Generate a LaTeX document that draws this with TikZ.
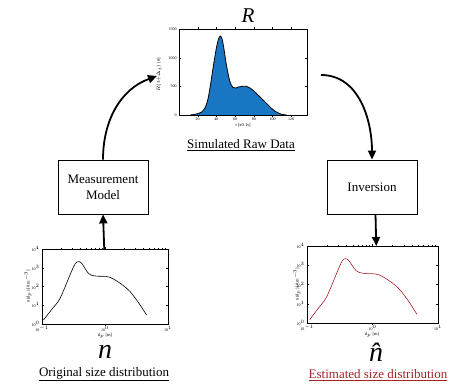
\documentclass[tikz,border=0pt]{standalone}
\usepackage{fontspec}
\setmainfont{Liberation Serif}
\usetikzlibrary{arrows.meta}
\definecolor{histblue}{RGB}{25,118,195}
\definecolor{estred}{RGB}{165,35,40}
\begin{document}
\begin{tikzpicture}[x=1pt,y=-1pt,
 flow/.style={line width=1.8pt, -{Triangle[length=9pt,width=8pt]}},
 procbox/.style={draw, line width=0.8pt, minimum width=90pt, minimum height=54pt, align=center, inner sep=0pt, font=\fontsize{13}{16}\selectfont},
 caption/.style={font=\fontsize{13}{15}\selectfont, inner sep=1pt},
 ticklab/.style={font=\fontsize{4}{4}\selectfont, inner sep=0.3pt},
 axlab/.style={font=\fontsize{4.5}{5}\selectfont, inner sep=0.3pt},
 plotframe/.style={draw, line width=0.5pt, inner sep=0pt, anchor=north west},
 bigsym/.style={font=\fontsize{28}{28}\selectfont\itshape, inner sep=0pt},
]
\useasboundingbox (0,0) rectangle (474,390);

% ---------- top: simulated raw data ----------
\node[font=\fontsize{21}{21}\selectfont\itshape, inner sep=0pt] (Rsym) at (248,16) {R};
\node[plotframe, minimum width=128pt, minimum height=86pt] (rawplot) at (179,29) {};
\begin{scope}[shift={(179,115)}, x=0.935pt, y=5.73pt]
  \fill[histblue] (12,0) -- plot[smooth, tension=0.5] coordinates {(12,0) (18,0.15) (24,0.5) (28,1.3) (31,2.8) (34,5.6) (37,8.8) (40,11.7) (42,13.1) (44,13.8) (46,13.3) (48,11.6) (50,9.4) (52,7.6) (54,6.1) (56,5.2) (58,4.8) (61,4.7) (64,4.9) (68,5.0) (72,5.0) (76,4.7) (80,4.2) (85,3.4) (90,2.6) (95,1.8) (100,1.0) (105,0.45) (110,0.12) (115,0)} -- cycle;
  \draw[line width=0.8pt] plot[smooth, tension=0.5] coordinates {(12,0) (18,0.15) (24,0.5) (28,1.3) (31,2.8) (34,5.6) (37,8.8) (40,11.7) (42,13.1) (44,13.8) (46,13.3) (48,11.6) (50,9.4) (52,7.6) (54,6.1) (56,5.2) (58,4.8) (61,4.7) (64,4.9) (68,5.0) (72,5.0) (76,4.7) (80,4.2) (85,3.4) (90,2.6) (95,1.8) (100,1.0) (105,0.45) (110,0.12) (115,0)};
  \foreach \t in {20,40,...,120} {
    \draw[line width=0.3pt] (\t,0) -- ++(0,-2pt);
    \draw[line width=0.3pt] (\t,15) -- ++(0,2pt);
  }
  \foreach \v in {5,10} {
    \draw[line width=0.3pt] (0,\v) -- ++(2pt,0);
    \draw[line width=0.3pt] (137,\v) -- ++(-2pt,0);
  }
\end{scope}
\foreach \t/\px in {20/197.7,40/216.4,60/235.1,80/253.8,100/272.5,120/291.2}
  \node[ticklab] at (\px,119) {\t};
\foreach \v/\py in {1500/29,1000/58,500/86.5,0/115}
  \node[ticklab, anchor=east] at (177,\py) {\v};
\node[axlab, rotate=90] at (159,75) {$R(t{+}\Delta_t)$ [\#]};
\node[axlab] at (243,125.5) {t [x0.1s]};
\node[caption] (rawcap) at (241,145) {\underline{Simulated Raw Data}};

% ---------- process boxes ----------
\node[procbox] (mm) at (103,187) {Measurement\\Model};
\node[procbox] (inv) at (372,187) {Inversion};

% ---------- bottom left: original size distribution ----------
\node[plotframe, minimum width=126pt, minimum height=75pt] (origplot) at (42,249) {};
\begin{scope}[shift={(42,249)}, x=126pt, y=-75pt]
  \draw[line width=0.6pt] plot[smooth, tension=0.55] coordinates {(0.011,0.947) (0.08,0.80) (0.143,0.658) (0.222,0.347) (0.262,0.20) (0.288,0.169) (0.315,0.19) (0.368,0.324) (0.421,0.36) (0.54,0.378) (0.672,0.524) (0.751,0.68) (0.83,0.88)};
  \foreach \w in {0.25,0.5,0.75} {
    \draw[line width=0.3pt] (0,\w) -- ++(2pt,0);
    \draw[line width=0.3pt] (1,\w) -- ++(-2pt,0);
  }
  \foreach \d in {0,0.5} \foreach \k in {2,...,9} {
    \draw[line width=0.3pt] ({\d+0.5*log10(\k)},1) -- ++(0,-1.2pt);
    \draw[line width=0.3pt] ({\d+0.5*log10(\k)},0) -- ++(0,1.2pt);
  }
  \draw[line width=0.3pt] (0.5,1) -- ++(0,-2.2pt) (0.5,0) -- ++(0,2.2pt);
\end{scope}
\foreach \e/\py in {4/249,3/267.75,2/286.5,1/305.25,0/324}
  \node[ticklab, anchor=east] at (40,\py) {10$^{\e}$};
\foreach \e/\px in {-1/42,0/105,1/168}
  \node[ticklab, anchor=north] at (\px,325.5) {10$^{\e}$};
\node[axlab, rotate=90] at (28,286) {n(d$_p$) [\#.m$^{-3}$]};
\node[axlab, anchor=north] at (105,332.5) {d$_p$ [m]};
\node[bigsym] (nsym) at (105,352) {n};
\node[caption] (origcap) at (104,374) {\underline{Original size distribution}};

% ---------- bottom right: estimated size distribution ----------
\node[plotframe, minimum width=131pt, minimum height=77pt] (estplot) at (307,246) {};
\begin{scope}[shift={(307,246)}, x=131pt, y=-77pt]
  \draw[estred, line width=0.6pt] plot[smooth, tension=0.55] coordinates {(0.02,0.96) (0.09,0.80) (0.15,0.66) (0.23,0.34) (0.27,0.19) (0.295,0.165) (0.32,0.19) (0.375,0.32) (0.43,0.355) (0.55,0.375) (0.68,0.52) (0.76,0.68) (0.84,0.89)};
  \foreach \w in {0.25,0.5,0.75} {
    \draw[line width=0.3pt] (0,\w) -- ++(2pt,0);
    \draw[line width=0.3pt] (1,\w) -- ++(-2pt,0);
  }
  \foreach \d in {0,0.5} \foreach \k in {2,...,9} {
    \draw[line width=0.3pt] ({\d+0.5*log10(\k)},1) -- ++(0,-1.2pt);
    \draw[line width=0.3pt] ({\d+0.5*log10(\k)},0) -- ++(0,1.2pt);
  }
  \draw[line width=0.3pt] (0.5,1) -- ++(0,-2.2pt) (0.5,0) -- ++(0,2.2pt);
\end{scope}
\foreach \e/\py in {4/246,3/265.25,2/284.5,1/303.75,0/323}
  \node[ticklab, anchor=east] at (305,\py) {10$^{\e}$};
\foreach \e/\px in {-1/307,0/372.5,1/438}
  \node[ticklab, anchor=north] at (\px,324.5) {10$^{\e}$};
\node[axlab, rotate=90] at (297,284) {n(d$_p$) [\#.m$^{-3}$]};
\node[axlab, anchor=north] at (372,331.5) {d$_p$ [m]};
\node[bigsym] (nhat) at (376,352) {\^{n}};
\node[caption, text=estred] (estcap) at (378,375) {\underline{Estimated size distribution}};

% ---------- connectors ----------
\coordinate (rawin) at (157,76);
\coordinate (rawout) at (321,75);
\draw[flow] ([xshift=-1pt]origplot.north) -- (mm.south);
\draw[flow] (mm.north) to[out=90, in=200] (rawin);
\draw[flow] (rawout) to[out=0, in=90] (inv.north);
\draw[flow] ([xshift=3.5pt]inv.south) -- ([xshift=3.5pt]estplot.north);
\end{tikzpicture}
\end{document}
